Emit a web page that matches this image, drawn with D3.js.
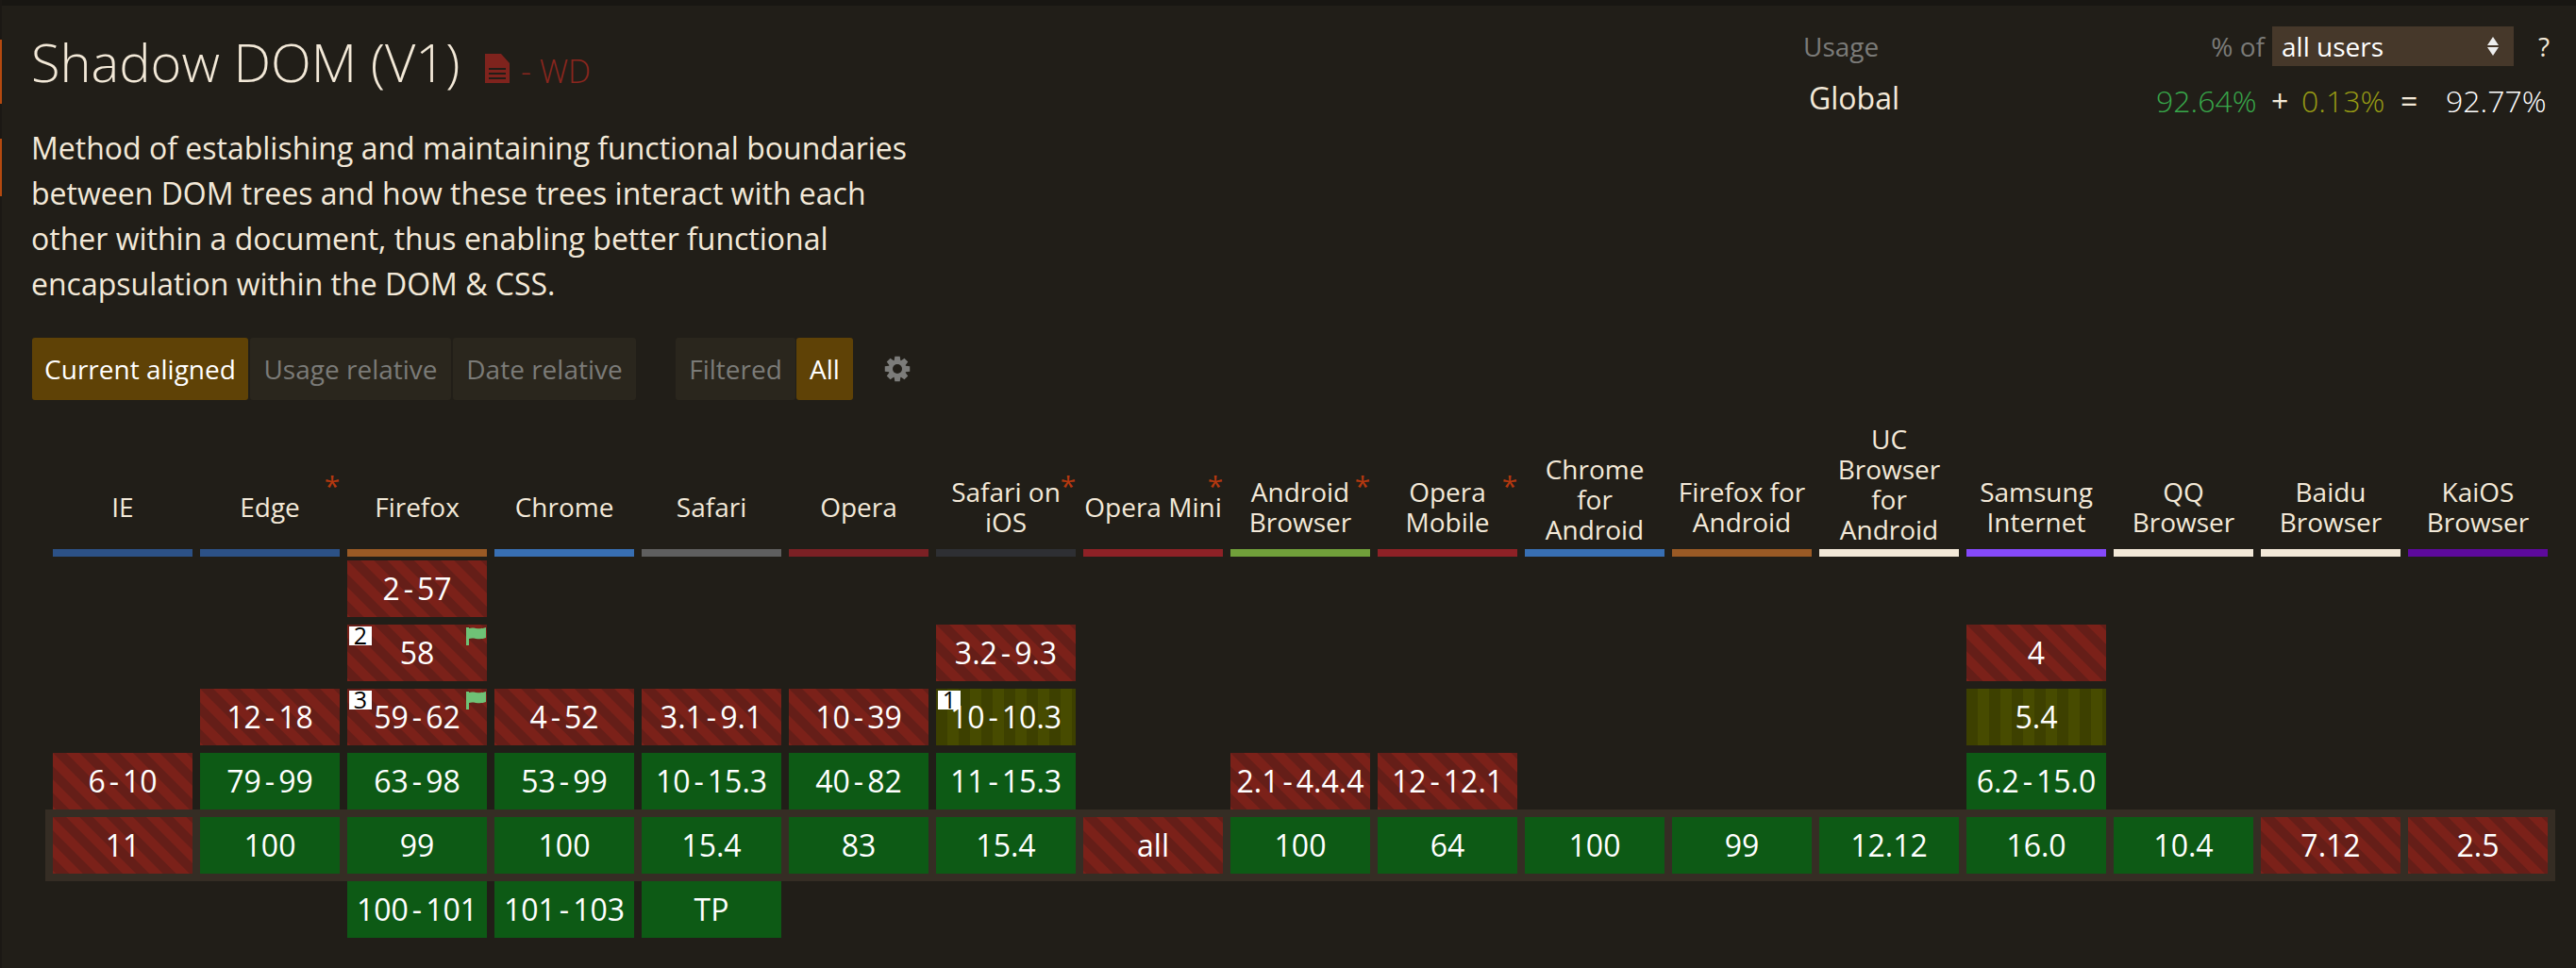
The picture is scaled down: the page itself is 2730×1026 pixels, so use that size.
<!DOCTYPE html>
<html>
<head>
<meta charset="utf-8">
<script src="https://cdn.jsdelivr.net/npm/d3@7"></script>
<style>
  html, body { margin: 0; padding: 0; background: #211e18; overflow: hidden; }
  svg { display: block; font-family: "Open Sans", sans-serif; }
</style>
</head>
<body>
<svg id="chart" width="2730" height="1026"></svg>
<script>
// browsers, in table order, split into header lines
const browsers = ["IE", "Edge", "Firefox", "Chrome", "Safari", "Opera", "Safari on iOS", "Opera Mini",
  "Android Browser", "Opera Mobile", "Chrome for Android", "Firefox for Android", "UC Browser for Android",
  "Samsung Internet", "QQ Browser", "Baidu Browser", "KaiOS Browser"];
const headerLines = [["IE"], ["Edge"], ["Firefox"], ["Chrome"], ["Safari"], ["Opera"], ["Safari on", "iOS"], ["Opera Mini"],
  ["Android", "Browser"], ["Opera", "Mobile"], ["Chrome", "for", "Android"], ["Firefox for", "Android"],
  ["UC", "Browser", "for", "Android"], ["Samsung", "Internet"], ["QQ", "Browser"], ["Baidu", "Browser"], ["KaiOS", "Browser"]];
const browserColors = ["#2c5186", "#2c5186", "#9a5a25", "#386fb3", "#5f5f5f", "#7b2024", "#2e2f33", "#8e2126",
  "#71a03a", "#8e2126", "#386fb3", "#9a5a25", "#f3e9d8", "#8549fa", "#f3e9d8", "#f3e9d8", "#5d0a9c"];
const asteriskBrowsers = ["Edge", "Safari on iOS", "Opera Mini", "Android Browser", "Opera Mobile"];

// one list per table row: version label per browser, "" for an empty cell
const row0Versions = ["", "", "2-57", "", "", "", "", "", "", "", "", "", "", "", "", "", ""];
const row1Versions = ["", "", "58", "", "", "", "3.2-9.3", "", "", "", "", "", "", "4", "", "", ""];
const row2Versions = ["", "12-18", "59-62", "4-52", "3.1-9.1", "10-39", "10-10.3", "", "", "", "", "", "", "5.4", "", "", ""];
const row3Versions = ["6-10", "79-99", "63-98", "53-99", "10-15.3", "40-82", "11-15.3", "", "2.1-4.4.4", "12-12.1", "", "", "", "6.2-15.0", "", "", ""];
const row4Versions = ["11", "100", "99", "100", "15.4", "83", "15.4", "all", "100", "64", "100", "99", "12.12", "16.0", "10.4", "7.12", "2.5"];
const row5Versions = ["", "", "100-101", "101-103", "TP", "", "", "", "", "", "", "", "", "", "", "", ""];
const versionRows = [row0Versions, row1Versions, row2Versions, row3Versions, row4Versions, row5Versions];

// support per row, same order: n = no, y = yes, a = partial, . = empty
const supportRows = [
  "..n..............",
  "..n...n......n...",
  ".nnnnna......a...",
  "nyyyyyy.nn...y...",
  "nyyyyyynyyyyyyynn",
  "..yyy............"
];

// footnote badges and flags: [browser, row, note]
const notes = [["Firefox", 1, "2"], ["Firefox", 2, "3"], ["Safari on iOS", 2, "1"]];
const flags = [["Firefox", 1], ["Firefox", 2]];

const viewModes = ["Current aligned", "Usage relative", "Date relative"];
const filterModes = ["Filtered", "All"];
const descriptionLines = ["Method of establishing and maintaining functional boundaries",
  "between DOM trees and how these trees interact with each",
  "other within a document, thus enabling better functional",
  "encapsulation within the DOM & CSS."];

const BG = "#211e18", CREAM = "#f3e9d8";
const svg = d3.select("#chart");

const x = d3.scaleBand().domain(browsers).range([56, 2700]).paddingInner(8 / 156);
const y = d3.scaleBand().domain(d3.range(versionRows.length)).range([594, 994]).paddingInner(8 / 68);

const defs = svg.append("defs");
function stripes(id, base, dark, size, angle) {
  const p = defs.append("pattern").attr("id", id).attr("patternUnits", "userSpaceOnUse")
    .attr("width", size).attr("height", size).attr("patternTransform", `rotate(${angle})`);
  p.append("rect").attr("width", size).attr("height", size).attr("fill", base);
  p.append("rect").attr("width", size / 2).attr("height", size).attr("fill", dark);
}
stripes("noStripes", "#7b2119", "#651e18", 20, -45);
stripes("partStripes", "#474b00", "#3d4000", 24, 0);
const fillFor = { n: "url(#noStripes)", a: "url(#partStripes)", y: "#0d5a15" };

svg.append("rect").attr("width", 2730).attr("height", 1026).attr("fill", BG);
svg.append("rect").attr("width", 2730).attr("height", 6).attr("fill", "#181612");
svg.append("rect").attr("width", 2).attr("height", 1026).attr("fill", "#1b1814");
svg.append("rect").attr("y", 42).attr("width", 2).attr("height", 68).attr("fill", "#b5490f");
svg.append("rect").attr("y", 147).attr("width", 2).attr("height", 61).attr("fill", "#b5490f");

// title block
svg.append("text").attr("x", 33).attr("y", 87).attr("fill", CREAM)
  .attr("font-size", 56).attr("font-weight", 300).text("Shadow DOM (V1)");
const docIcon = svg.append("g").attr("transform", "translate(514,57)").attr("fill", "#7f231d");
docIcon.append("path").attr("d", "M0 0H17L26 10V31H0Z");
docIcon.selectAll("rect").data([15, 20, 25]).join("rect")
  .attr("x", 4).attr("y", d => d).attr("width", 18).attr("height", 2).attr("fill", BG);
svg.append("text").attr("x", 552).attr("y", 88).attr("fill", "#8a261e")
  .attr("font-size", 34).attr("font-weight", 300).text("- WD");

svg.append("g").selectAll("text").data(descriptionLines).join("text")
  .attr("x", 33).attr("y", (d, i) => 169 + i * 48).attr("fill", CREAM)
  .attr("font-size", 32).text(d => d);

// toolbar buttons
const buttons = [
  { t: viewModes[0], x0: 34, x1: 263, on: true }, { t: viewModes[1], x0: 265, x1: 478 }, { t: viewModes[2], x0: 480, x1: 674 },
  { t: filterModes[0], x0: 716, x1: 843 }, { t: filterModes[1], x0: 844, x1: 904, on: true }
];
const btn = svg.append("g").selectAll("g").data(buttons).join("g");
btn.append("rect").attr("x", d => d.x0).attr("y", 358).attr("width", d => d.x1 - d.x0).attr("height", 66)
  .attr("rx", 3).attr("fill", d => d.on ? "#5f4206" : "#2a261d");
btn.append("text").attr("x", d => (d.x0 + d.x1) / 2).attr("y", 402).attr("text-anchor", "middle")
  .attr("font-size", 28).attr("fill", d => d.on ? "#fff" : "#7b7b78").text(d => d.t);

// gear: eight teeth around a hole
const gearPoints = d3.range(8).flatMap(i => {
  const a = i * Math.PI / 4;
  return [[9.5, a - 0.36], [13.5, a - 0.2], [13.5, a + 0.2], [9.5, a + 0.36]]
    .map(([r, t]) => [r * Math.cos(t), r * Math.sin(t)]);
});
const gear = svg.append("g").attr("transform", "translate(951,391)");
gear.append("path").attr("d", d3.line().curve(d3.curveLinearClosed)(gearPoints)).attr("fill", "#7c7c7a");
gear.append("circle").attr("r", 5).attr("fill", BG);

// usage block
svg.append("text").attr("x", 1911).attr("y", 60).attr("font-size", 28).attr("fill", "#7b7b78").text("Usage");
svg.append("text").attr("x", 2400).attr("y", 60).attr("text-anchor", "end").attr("font-size", 28).attr("fill", "#7b7b78").text("% of");
svg.append("rect").attr("x", 2408).attr("y", 28).attr("width", 256).attr("height", 42).attr("fill", "#46382a");
svg.append("text").attr("x", 2418).attr("y", 60).attr("font-size", 28).attr("fill", "#fff").text("all users");
svg.append("path").attr("d", "M2642 39l6 9h-12zM2642 59l6-9h-12z").attr("fill", "#eee");
svg.append("text").attr("x", 2696).attr("y", 60).attr("text-anchor", "middle").attr("font-size", 28).attr("fill", CREAM).text("?");
svg.append("text").attr("x", 1917).attr("y", 116).attr("font-size", 32).attr("fill", CREAM).text("Global");

const usageParts = [
  { t: "92.64%", x: 2285, c: "#38a84a", w: 300 }, { t: "+", x: 2407, c: CREAM, w: 400 },
  { t: "0.13%", x: 2439, c: "#989c14", w: 300 }, { t: "=", x: 2544, c: CREAM, w: 400 },
  { t: "92.77%", x: 2592, c: "#fff", w: 300 }
];
svg.append("g").selectAll("text").data(usageParts).join("text")
  .attr("x", d => d.x).attr("y", 119).attr("font-size", 32).attr("font-weight", d => d.w)
  .attr("fill", d => d.c).text(d => d.t);

// browser headers
const lastBaseline = { 1: 548, 2: 564, 3: 572, 4: 572 };
const header = svg.append("g").selectAll("g").data(browsers).join("g");
header.append("rect").attr("x", d => x(d)).attr("y", 582).attr("width", x.bandwidth()).attr("height", 8)
  .attr("fill", (d, i) => browserColors[i]);
header.each(function (d, i) {
  const lines = headerLines[i];
  d3.select(this).selectAll("text.h").data(lines).join("text").attr("class", "h")
    .attr("x", x(d) + x.bandwidth() / 2)
    .attr("y", (l, k) => lastBaseline[lines.length] - (lines.length - 1 - k) * 32)
    .attr("text-anchor", "middle").attr("font-size", 28).attr("fill", CREAM).text(l => l);
});
svg.append("g").selectAll("text").data(asteriskBrowsers).join("text")
  .attr("x", d => x(d) + x.bandwidth() - 8).attr("y", 526).attr("text-anchor", "middle")
  .attr("font-size", 30).attr("fill", "#b5380f").text("*");

// current row band sits behind the cells
svg.append("rect").attr("x", 48).attr("y", y(4) - 8).attr("width", 2660).attr("height", y.bandwidth() + 16).attr("fill", "#352d24");

// version cells, drawn in local coordinates so each stripe pattern starts at its own corner
const cells = versionRows.flatMap((row, r) => row.map((label, b) =>
  ({ label, browser: browsers[b], row: r, status: supportRows[r][b] }))).filter(d => d.label);
const cell = svg.append("g").selectAll("g").data(cells).join("g")
  .attr("transform", d => `translate(${x(d.browser)},${y(d.row)})`);
cell.append("rect").attr("width", x.bandwidth()).attr("height", y.bandwidth()).attr("fill", d => fillFor[d.status]);
const cellText = cell.append("text").attr("x", x.bandwidth() / 2).attr("y", 42)
  .attr("text-anchor", "middle").attr("font-size", 32).attr("fill", "#fff");
cellText.each(function (d) {
  const t = d3.select(this), parts = d.label.split("-");
  parts.forEach((p, i) => {
    if (i > 0) t.append("tspan").attr("dx", 4).text("-");
    t.append("tspan").attr("dx", i > 0 ? 4 : 0).text(p);
  });
});

// note badges, flags
const badge = svg.append("g").selectAll("g").data(notes).join("g");
badge.append("rect").attr("x", d => x(d[0]) + 2).attr("y", d => y(d[1]) + 2).attr("width", 24).attr("height", 20).attr("fill", "#fff");
badge.append("text").attr("x", d => x(d[0]) + 14).attr("y", d => y(d[1]) + 21).attr("text-anchor", "middle")
  .attr("font-size", 25).attr("fill", "#000").text(d => d[2]);
svg.append("g").selectAll("path").data(flags).join("path")
  .attr("transform", d => `translate(${x(d[0]) + x.bandwidth() - 22},${y(d[1]) + 2})`)
  .attr("d", "M0 1H3V20H0ZM3 2C8 0 13 4 21 1V12C13 15 8 11 3 13Z").attr("fill", "#6fc276");
</script>
</body>
</html>
